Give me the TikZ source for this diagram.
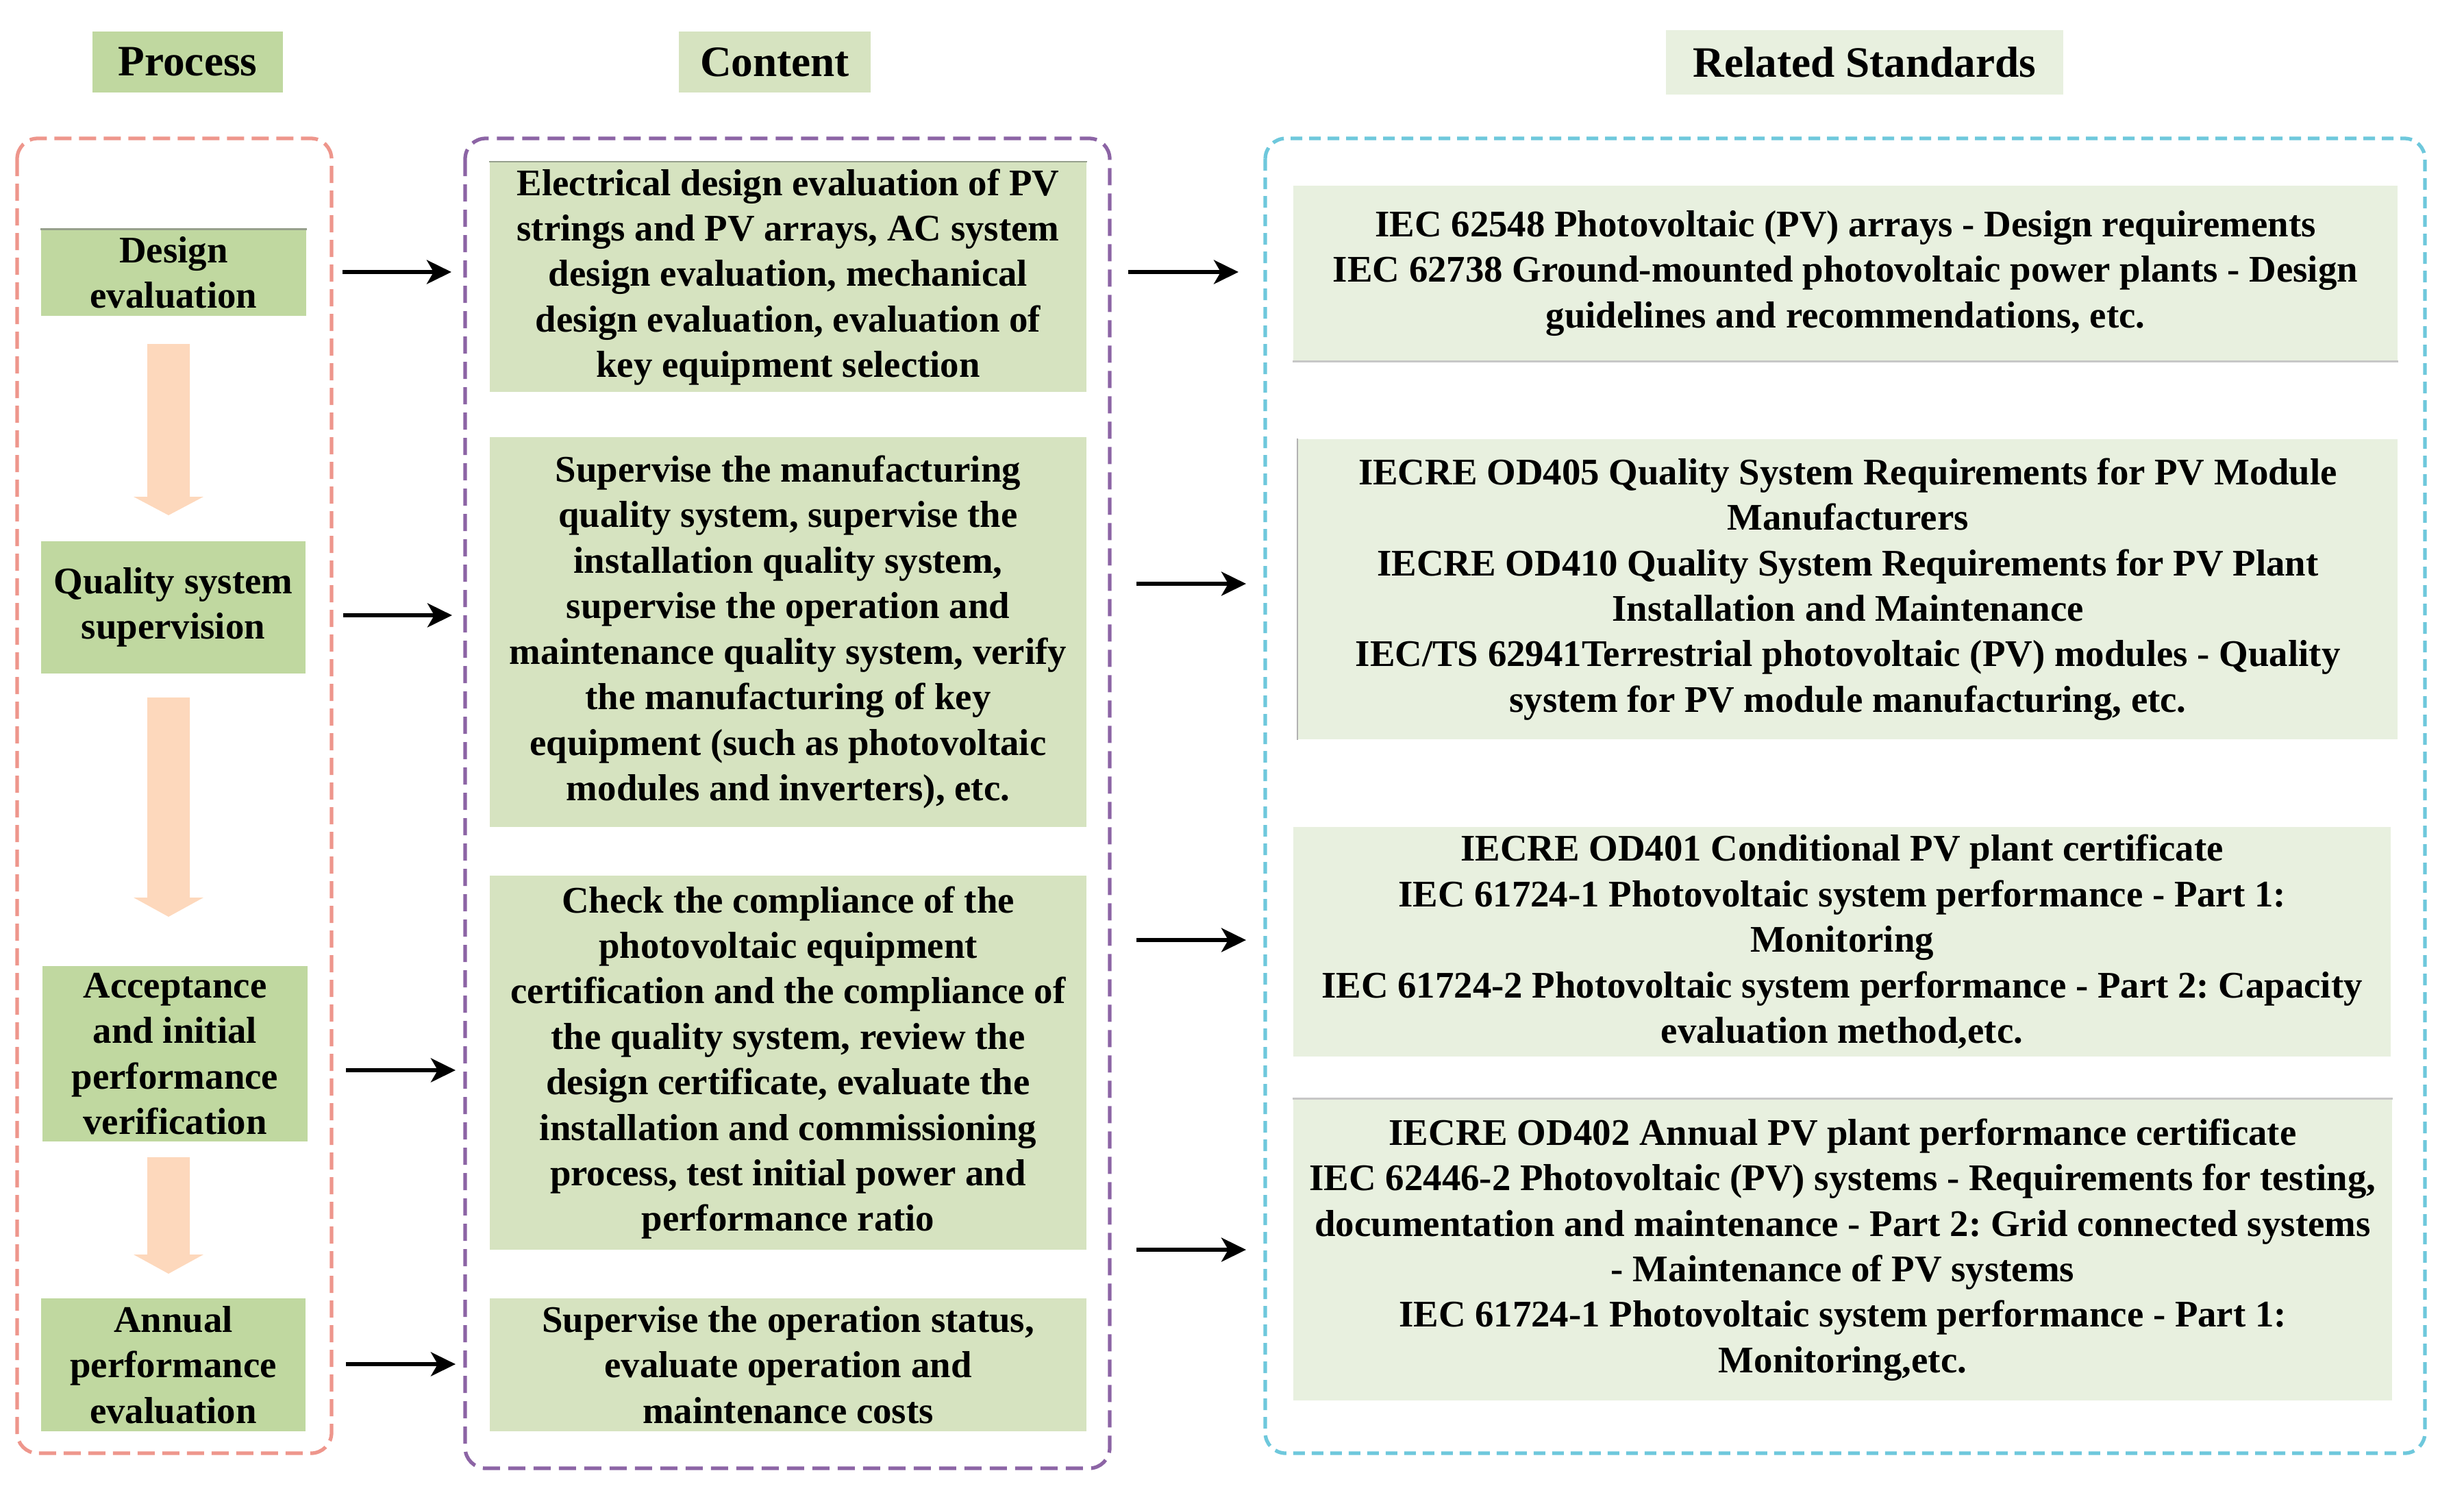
\documentclass[tikz,border=0pt]{standalone}
\usepackage{fontspec}
\setmainfont{Liberation Serif}
\frenchspacing
\usetikzlibrary{arrows.meta}
\definecolor{redd}{RGB}{238,150,140}
\definecolor{purd}{RGB}{140,100,165}
\definecolor{cyand}{RGB}{110,200,220}
\definecolor{pfill}{RGB}{192,216,160}
\definecolor{cfill}{RGB}{214,227,192}
\definecolor{sfill}{RGB}{232,240,223}
\definecolor{orng}{RGB}{253,216,188}
\definecolor{edge}{RGB}{150,160,140}
\begin{document}
\begin{tikzpicture}[x=1cm,y=1cm,
  txt/.style={font=\bfseries\fontsize{15.6}{18.9}\selectfont, align=center, inner sep=0pt, text=black},
  hdr/.style={font=\bfseries\fontsize{18}{21.6}\selectfont, align=center, inner sep=0pt},
  pbox/.style={txt, fill=pfill},
  cbox/.style={txt, fill=cfill},
  sbox/.style={txt, fill=sfill},
  blk/.style={line width=1.6pt, -{Stealth[length=3.6mm,width=3.5mm,inset=1mm]}},
  oarrow/.style={fill=orng, draw=none},
  cont/.style={line width=1.5pt, rounded corners=3mm}
]
\useasboundingbox (0,0) rectangle (35.97,-21.81);

% headers
\node[hdr, fill=pfill, minimum width=2.78cm, minimum height=0.89cm] (hP) at (2.74,-0.905) {Process};
\node[hdr, fill=cfill, minimum width=2.80cm, minimum height=0.89cm] (hC) at (11.31,-0.905) {Content};
\node[hdr, fill=sfill, minimum width=5.80cm, minimum height=0.94cm] (hS) at (27.22,-0.91) {Related Standards};

% dashed containers
\draw[cont, redd, dash pattern=on 0.25cm off 0.11cm] (0.25,-2.02) rectangle (4.84,-21.21);
\draw[cont, purd, dash pattern=on 0.25cm off 0.12cm] (6.79,-2.02) rectangle (16.20,-21.43);
\draw[cont, cyand, dash pattern=on 0.17cm off 0.10cm] (18.47,-2.02) rectangle (35.40,-21.21);

% process boxes
\node[pbox, minimum width=3.87cm, minimum height=1.26cm] (p1) at (2.535,-3.98) {Design\\evaluation};
\node[pbox, minimum width=3.86cm, minimum height=1.93cm] (p2) at (2.53,-8.865) {Quality system\\supervision};
\node[pbox, minimum width=3.87cm, minimum height=2.56cm] (p3) at (2.555,-15.38) {Acceptance\\and initial\\performance\\verification};
\node[pbox, minimum width=3.86cm, minimum height=1.94cm] (p4) at (2.53,-19.92) {Annual\\performance\\evaluation};
\draw[edge, line width=0.8pt] (p1.north west) -- (p1.north east);

% content boxes
\node[cbox, minimum width=8.71cm, minimum height=3.35cm] (c1) at (11.505,-4.045)
 {Electrical design evaluation of PV\\strings and PV arrays, AC system\\design evaluation, mechanical\\design evaluation, evaluation of\\key equipment selection};
\node[cbox, minimum width=8.71cm, minimum height=5.69cm] (c2) at (11.505,-9.225)
 {Supervise the manufacturing\\quality system, supervise the\\installation quality system,\\supervise the operation and\\maintenance quality system, verify\\the manufacturing of key\\equipment (such as photovoltaic\\modules and inverters), etc.};
\node[cbox, minimum width=8.71cm, minimum height=5.46cm] (c3) at (11.505,-15.51)
 {Check the compliance of the\\photovoltaic equipment\\certification and the compliance of\\the quality system, review the\\design certificate, evaluate the\\installation and commissioning\\process, test initial power and\\performance ratio};
\node[cbox, minimum width=8.71cm, minimum height=1.94cm] (c4) at (11.505,-19.92)
 {Supervise the operation status,\\evaluate operation and\\maintenance costs};
\draw[edge, line width=0.6pt] (c1.north west) -- (c1.north east);

% standards boxes
\node[sbox, minimum width=16.12cm, minimum height=2.56cm] (s1) at (26.94,-3.99)
 {IEC 62548 Photovoltaic (PV) arrays - Design requirements\\IEC 62738 Ground-mounted photovoltaic power plants - Design\\guidelines and recommendations, etc.};
\node[sbox, minimum width=16.05cm, minimum height=4.38cm] (s2) at (26.975,-8.60)
 {IECRE OD405 Quality System Requirements for PV Module\\Manufacturers\\IECRE OD410 Quality System Requirements for PV Plant\\Installation and Maintenance\\IEC/TS 62941Terrestrial photovoltaic (PV) modules - Quality\\system for PV module manufacturing, etc.};
\node[sbox, minimum width=16.02cm, minimum height=3.35cm] (s3) at (26.89,-13.745)
 {IECRE OD401 Conditional PV plant certificate\\IEC 61724-1 Photovoltaic system performance - Part 1:\\Monitoring\\IEC 61724-2 Photovoltaic system performance - Part 2: Capacity\\evaluation method,etc.};
\node[sbox, minimum width=16.04cm, minimum height=4.40cm] (s4) at (26.90,-18.24)
 {IECRE OD402 Annual PV plant performance certificate\\IEC 62446-2 Photovoltaic (PV) systems - Requirements for testing,\\documentation and maintenance - Part 2: Grid connected systems\\- Maintenance of PV systems\\IEC 61724-1 Photovoltaic system performance - Part 1:\\Monitoring,etc.};
\draw[black!22, line width=0.8pt] (s1.south west) -- (s1.south east);
\draw[black!22, line width=0.8pt] (s4.north west) -- (s4.north east);
\draw[black!30, line width=0.6pt] (s2.north west) -- (s2.south west);

% orange block arrows
\fill[oarrow] (2.15,-5.02) -- (2.77,-5.02) -- (2.77,-7.25) -- (2.97,-7.25) -- (2.46,-7.52) -- (1.95,-7.25) -- (2.15,-7.25) -- cycle;
\fill[oarrow] (2.15,-10.18) -- (2.77,-10.18) -- (2.77,-13.10) -- (2.97,-13.10) -- (2.46,-13.38) -- (1.95,-13.10) -- (2.15,-13.10) -- cycle;
\fill[oarrow] (2.15,-16.89) -- (2.77,-16.89) -- (2.77,-18.31) -- (2.97,-18.31) -- (2.46,-18.59) -- (1.95,-18.31) -- (2.15,-18.31) -- cycle;

% black arrow end points
\coordinate (aA1) at (5.00,-3.97);  \coordinate (aA2) at (6.59,-3.97);
\coordinate (aB1) at (5.01,-8.98);  \coordinate (aB2) at (6.60,-8.98);
\coordinate (aC1) at (5.05,-15.62); \coordinate (aC2) at (6.65,-15.62);
\coordinate (aD1) at (5.05,-19.91); \coordinate (aD2) at (6.65,-19.91);
\coordinate (aE1) at (16.47,-3.97); \coordinate (aE2) at (18.08,-3.97);
\coordinate (aF1) at (16.59,-8.52); \coordinate (aF2) at (18.19,-8.52);
\coordinate (aG1) at (16.59,-13.72); \coordinate (aG2) at (18.19,-13.72);
\coordinate (aH1) at (16.59,-18.24); \coordinate (aH2) at (18.19,-18.24);
\foreach \a in {A,B,C,D,E,F,G,H} {\draw[blk] (a\a1) -- (a\a2);}
\end{tikzpicture}
\end{document}
